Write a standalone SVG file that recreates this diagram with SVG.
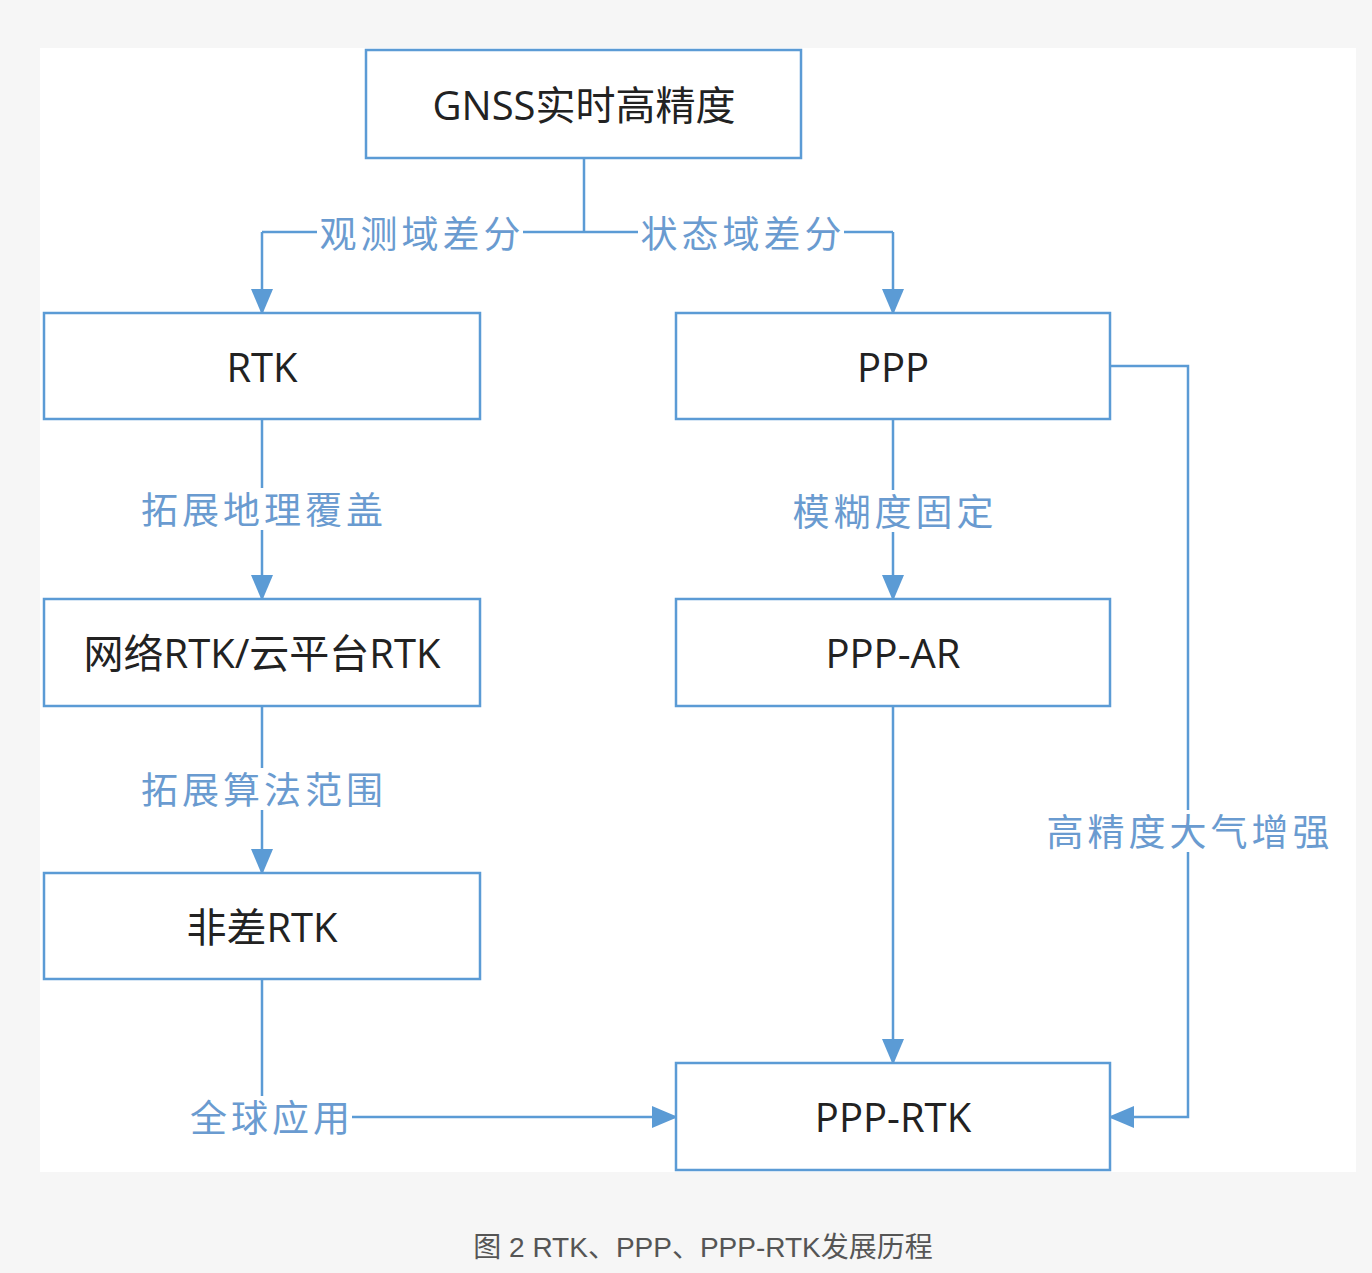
<svg xmlns="http://www.w3.org/2000/svg" width="1372" height="1273" viewBox="0 0 1372 1273">
<defs>
<marker id="ah" markerWidth="26" markerHeight="26" refX="24" refY="13" orient="auto" markerUnits="userSpaceOnUse" viewBox="0 0 26 26"><path d="M0,2 L26,13 L0,24 z" fill="#5b9bd5"/></marker>
<style>
.box{fill:#fff;stroke:#5b9bd5;stroke-width:2.5}
.t{font-family:"Open Sans","Noto Sans CJK SC",sans-serif;font-size:40px;fill:#222;text-anchor:middle;dominant-baseline:central}
.c{fill:none;stroke:#5b9bd5;stroke-width:2.5}
.l{font-family:"Noto Sans CJK SC",sans-serif;font-size:37px;letter-spacing:4px;fill:#6a9bd0;text-anchor:middle;dominant-baseline:central}
.lb{fill:#fff}
</style>
</defs>
<rect width="1372" height="1273" fill="#f6f6f6"/>
<rect x="40" y="48" width="1316" height="1124" fill="#fff"/>
<g id="connectors">
<path class="c" d="M584,158 V232 M262,232 H893"/>
<path class="c" d="M262,232 V313" marker-end="url(#ah)"/>
<path class="c" d="M893,232 V313" marker-end="url(#ah)"/>
<path class="c" d="M262,419 V599" marker-end="url(#ah)"/>
<path class="c" d="M262,706 V873" marker-end="url(#ah)"/>
<path class="c" d="M262,979 V1117 H676" marker-end="url(#ah)"/>
<path class="c" d="M893,419 V599" marker-end="url(#ah)"/>
<path class="c" d="M893,706 V1063" marker-end="url(#ah)"/>
<path class="c" d="M1110,366 H1188 V1117 H1110" marker-end="url(#ah)"/>
<rect class="lb" x="317" y="212" width="206" height="40"/><text class="l" x="422" y="232">观测域差分</text>
<rect class="lb" x="638" y="212" width="206" height="40"/><text class="l" x="743" y="232">状态域差分</text>
<rect class="lb" x="138" y="488" width="248" height="42"/><text class="l" x="264" y="508">拓展地理覆盖</text>
<rect class="lb" x="138" y="768" width="248" height="42"/><text class="l" x="264" y="788">拓展算法范围</text>
<rect class="lb" x="188" y="1096" width="164" height="42"/><text class="l" x="272" y="1116">全球应用</text>
<rect class="lb" x="790" y="490" width="206" height="42"/><text class="l" x="895" y="510">模糊度固定</text>
<rect class="lb" x="1042" y="810" width="292" height="42"/><text class="l" x="1190" y="830">高精度大气增强</text>
</g>
<g id="n-gnss"><rect class="box" x="366" y="50" width="435" height="108"/><text class="t" x="584" y="104">GNSS实时高精度</text></g>
<g id="n-rtk"><rect class="box" x="44" y="313" width="436" height="106"/><text class="t" x="262" y="366">RTK</text></g>
<g id="n-ppp"><rect class="box" x="676" y="313" width="434" height="106"/><text class="t" x="893" y="366">PPP</text></g>
<g id="n-nrtk"><rect class="box" x="44" y="599" width="436" height="107"/><text class="t" x="262" y="652">网络RTK/云平台RTK</text></g>
<g id="n-ppp-ar"><rect class="box" x="676" y="599" width="434" height="107"/><text class="t" x="893" y="652">PPP-AR</text></g>
<g id="n-udrtk"><rect class="box" x="44" y="873" width="436" height="106"/><text class="t" x="262" y="926">非差RTK</text></g>
<g id="n-ppp-rtk"><rect class="box" x="676" y="1063" width="434" height="107"/><text class="t" x="893" y="1116">PPP-RTK</text></g>
<text x="703" y="1247" font-family="Liberation Sans,'Noto Sans CJK SC',sans-serif" font-size="28" fill="#555" text-anchor="middle" dominant-baseline="central">图 2 RTK、PPP、PPP-RTK发展历程</text>
</svg>
